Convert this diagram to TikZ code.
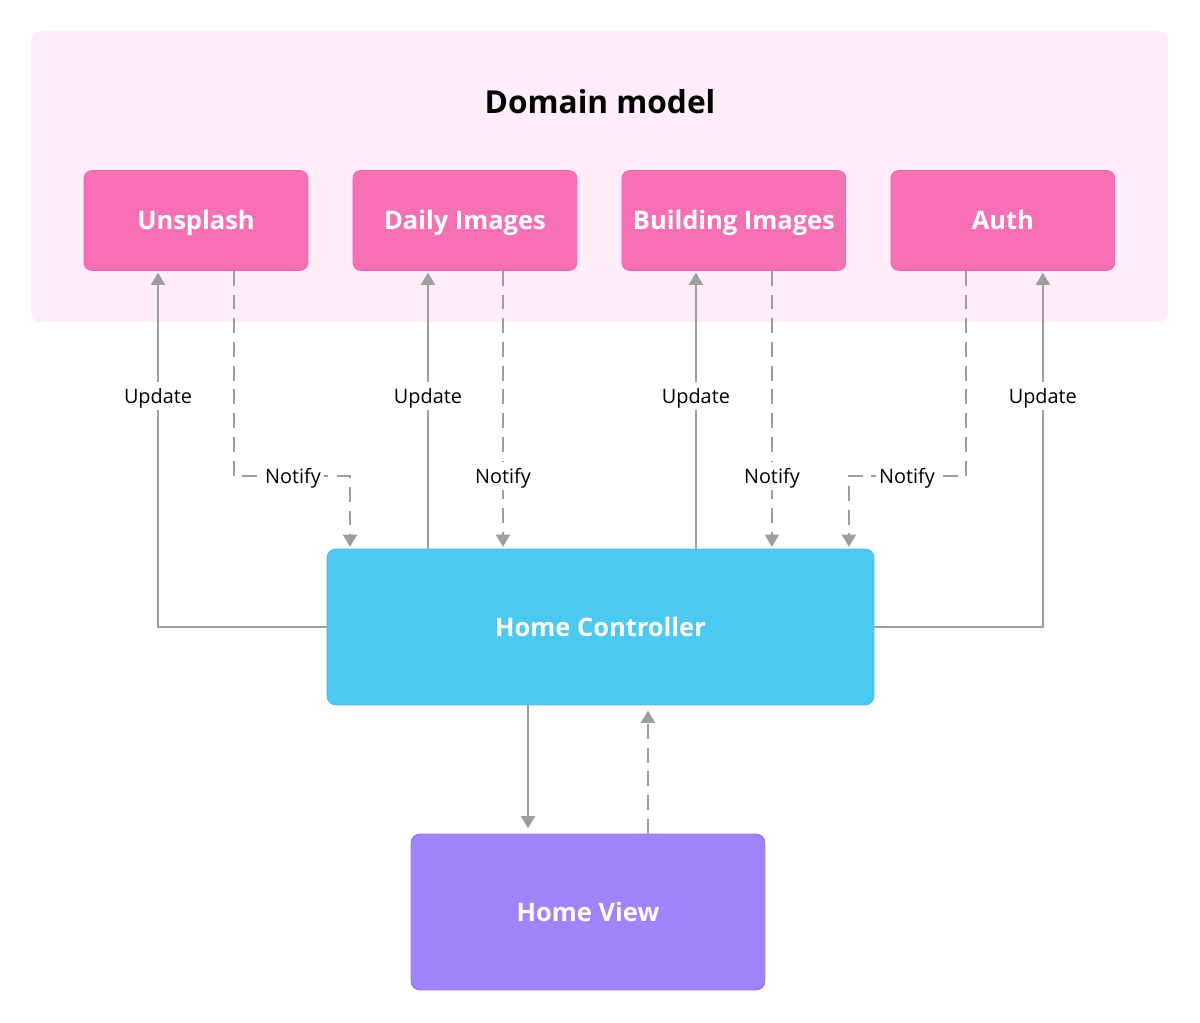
\documentclass[tikz,border=0pt]{standalone}
\usepackage{fontspec}
\setmainfont{Open Sans}
\usetikzlibrary{arrows.meta,positioning}

\definecolor{domainbg}{HTML}{FFEEF8}
\definecolor{domainfill}{HTML}{F770B6}
\definecolor{domainline}{HTML}{EC62AA}
\definecolor{ctrlfill}{HTML}{4CC9F0}
\definecolor{ctrlline}{HTML}{3DBBE6}
\definecolor{viewfill}{HTML}{A084FC}
\definecolor{viewline}{HTML}{9376F2}
\definecolor{wire}{HTML}{9E9E9E}

\begin{document}
\begin{tikzpicture}[x=0.02cm,y=-0.02cm,node distance=5.38cm,on grid,
    domainbox/.style={draw=domainline,fill=domainfill,rounded corners=4.5pt,
      minimum width=4.48cm,minimum height=2cm,inner sep=0pt,text=white,
      text height=10.4pt,text depth=0pt,
      font=\fontsize{14.5}{16}\selectfont\bfseries},
    bigbox/.style={rounded corners=5pt,minimum height=3.12cm,inner sep=0pt,
      text=white,text height=10.4pt,text depth=0pt,
      font=\fontsize{14.5}{16}\selectfont\bfseries},
    update/.style={draw=wire,line width=1.1pt,-{Triangle[width=8pt,length=7pt]},shorten >=1pt},
    notify/.style={update,dash pattern=on 8.5pt off 5pt},
    lbl/.style={fill=white,inner xsep=2pt,inner ysep=4pt,text height=8.1pt,text depth=0pt,
      font=\fontsize{11.3}{13}\selectfont}]
  \useasboundingbox (0,0) rectangle (1200,1023);

  % domain model area
  \fill[domainbg,rounded corners=5.5pt] (31,31) rectangle (1168,322);
  \node[font=\fontsize{18}{20}\selectfont\bfseries,text height=12.9pt,text depth=0pt] (title) at (600,102) {Domain model};

  \node[domainbox] (unsplash) at (196,220.5) {Unsplash};
  \node[domainbox,right=of unsplash] (daily) {Daily Images};
  \node[domainbox,right=of daily] (building) {Building Images};
  \node[domainbox,right=of building] (auth) {Auth};

  % controller and view
  \node[bigbox,draw=ctrlline,fill=ctrlfill,minimum width=10.94cm] (hc) at (600.5,627) {Home Controller};
  \node[bigbox,draw=viewline,fill=viewfill,minimum width=7.08cm] (hv) at (588,912) {Home View};

  % helper rows and ends
  \coordinate (updrow) at (0,396);
  \coordinate (notrow) at (0,476);
  \coordinate (up1) at ([xshift=-0.76cm]unsplash.south);
  \coordinate (up2) at ([xshift=-0.74cm]daily.south);
  \coordinate (up3) at ([xshift=-0.76cm]building.south);
  \coordinate (up4) at ([xshift=0.8cm]auth.south);
  \coordinate (nt1) at ([xshift=0.76cm]unsplash.south);
  \coordinate (nt2) at ([xshift=0.76cm]daily.south);
  \coordinate (nt3) at ([xshift=0.76cm]building.south);
  \coordinate (nt4) at ([xshift=-0.74cm]auth.south);
  \coordinate (nc1) at ([xshift=-5.01cm]hc.north);
  \coordinate (nc4) at ([xshift=4.97cm]hc.north);

  % update
  \draw[update] (hc.west) -| (up1);
  \draw[update] (up2 |- hc.north) -- (up2);
  \draw[update] (up3 |- hc.north) -- (up3);
  \draw[update] (hc.east) -| (up4);
  \node[lbl] (u1) at (up1 |- updrow) {Update};
  \node[lbl] (u2) at (up2 |- updrow) {Update};
  \node[lbl] (u3) at (up3 |- updrow) {Update};
  \node[lbl] (u4) at (up4 |- updrow) {Update};

  % notify
  \draw[notify] (nt1) |- (nc1 |- notrow) -- (nc1);
  \draw[notify] (nt2) -- (nt2 |- hc.north);
  \draw[notify] (nt3) -- (nt3 |- hc.north);
  \draw[notify] (nt4) |- (nc4 |- notrow) -- (nc4);
  \node[lbl] (n1) at (293,476) {Notify};
  \node[lbl] (n2) at (nt2 |- notrow) {Notify};
  \node[lbl] (n3) at (nt3 |- notrow) {Notify};
  \node[lbl] (n4) at (907,476) {Notify};

  % controller <-> view
  \coordinate (cv) at ([xshift=-1.2cm]hv.north);
  \coordinate (vc) at ([xshift=1.2cm]hv.north);
  \draw[update,shorten >=3pt] (cv |- hc.south) -- (cv);
  \draw[notify,shorten >=3pt] (vc) -- (vc |- hc.south);
\end{tikzpicture}
\end{document}
